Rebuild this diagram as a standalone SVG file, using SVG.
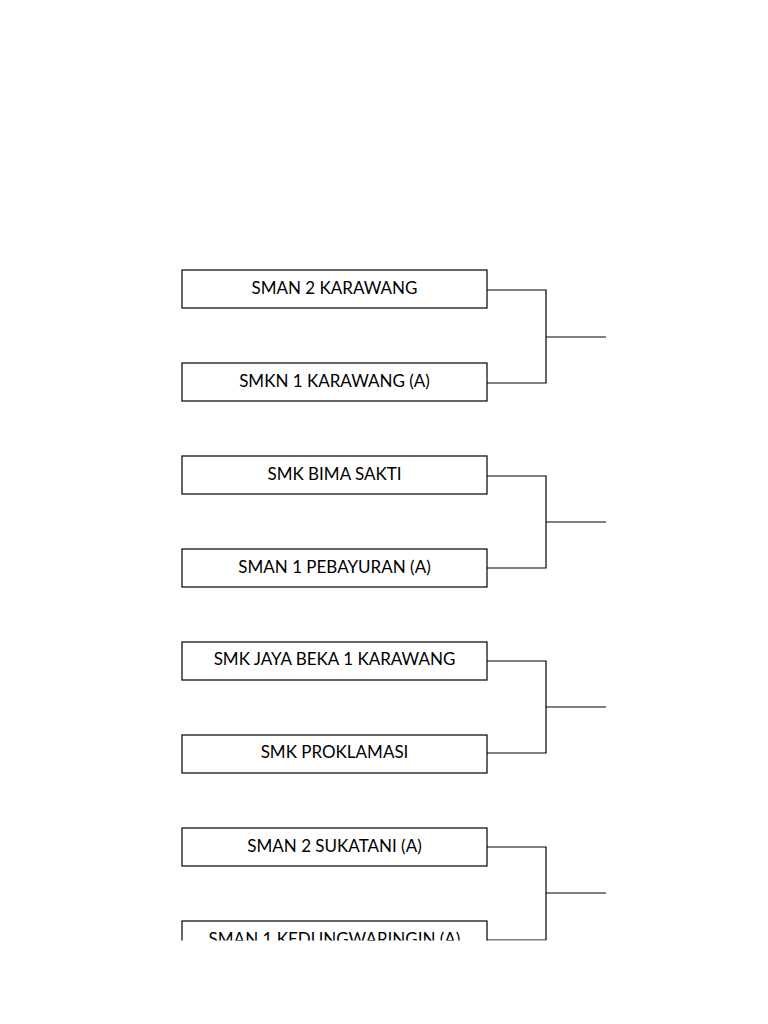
<svg xmlns="http://www.w3.org/2000/svg" width="768" height="1024" viewBox="0 0 768 1024">
<style>
.b{fill:#fff;stroke:#000;stroke-width:1.2}
.t{font-family:Lato,"Liberation Sans",sans-serif;font-size:17px;fill:#000;text-anchor:middle}
.c{fill:none;stroke:#000;stroke-width:1.2}
</style>
<defs><clipPath id="cp"><rect x="0" y="0" width="768" height="940.5"/></clipPath></defs>
<rect width="768" height="1024" fill="#fff"/>
<g clip-path="url(#cp)">
<g id="n1"><rect class="b" x="182" y="270" width="305" height="38"/><text class="t" x="334.5" y="294">SMAN 2 KARAWANG</text></g>
<g id="n2"><rect class="b" x="182" y="363" width="305" height="38"/><text class="t" x="334.5" y="387">SMKN 1 KARAWANG (A)</text></g>
<g id="n3"><rect class="b" x="182" y="456" width="305" height="38"/><text class="t" x="334.5" y="480">SMK BIMA SAKTI</text></g>
<g id="n4"><rect class="b" x="182" y="549" width="305" height="38"/><text class="t" x="334.5" y="573">SMAN 1 PEBAYURAN (A)</text></g>
<g id="n5"><rect class="b" x="182" y="642" width="305" height="38"/><text class="t" x="334.5" y="665">SMK JAYA BEKA 1 KARAWANG</text></g>
<g id="n6"><rect class="b" x="182" y="735" width="305" height="38"/><text class="t" x="334.5" y="758">SMK PROKLAMASI</text></g>
<g id="n7"><rect class="b" x="182" y="828" width="305" height="38"/><text class="t" x="334.5" y="852">SMAN 2 SUKATANI (A)</text></g>
<g id="n8"><rect class="b" x="182" y="921" width="305" height="38"/><text class="t" x="334.5" y="945">SMAN 1 KEDUNGWARINGIN (A)</text></g>
<g id="connectors">
<path class="c" d="M487 290H546V383H487M546 337H606"/>
<path class="c" d="M487 476H546V568H487M546 522H606"/>
<path class="c" d="M487 661H546V753H487M546 707H606"/>
<path class="c" d="M487 847H546V940H487M546 893H606"/>
</g>
</g>
</svg>
